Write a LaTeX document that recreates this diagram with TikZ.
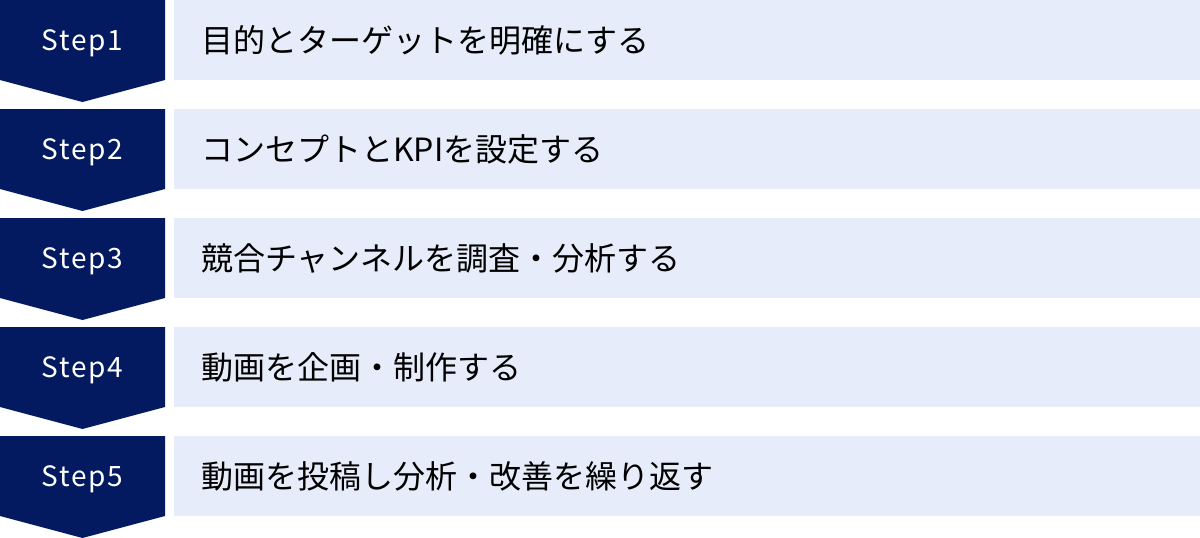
\documentclass[tikz,border=0pt]{standalone}
\usepackage{fontspec}
\setmainfont{Noto Sans CJK JP}
\newfontfamily\stepfont[LetterSpace=6]{Noto Sans CJK JP}
\definecolor{stepnavy}{HTML}{031960}
\definecolor{tasklight}{HTML}{E6ECF9}
\tikzset{
  steplabel/.style={text=white,inner sep=0pt,font=\stepfont\fontsize{28}{32}\selectfont},
  tasklabel/.style={text=black,anchor=west,inner sep=0pt,font=\fontsize{32}{38}\selectfont}
}
\begin{document}
\begin{tikzpicture}[x=1pt,y=-1pt,line join=round]
  \useasboundingbox (0,0) rectangle (1200,538);
  \foreach \i/\txt in {1/目的とターゲットを明確にする,2/コンセプトとKPIを設定する,
      3/競合チャンネルを調査・分析する,4/動画を企画・制作する,5/動画を投稿し分析・改善を繰り返す} {
      \pgfmathsetmacro{\y}{109*(\i-1)}
      \fill [color=stepnavy] (0,\y) -- (165,\y) -- (165,\y+80) -- (82.5,\y+102) -- (0,\y+80) -- cycle;
      \fill [color=tasklight] (174,\y) rectangle (1200,\y+80);
      \node [steplabel] (step\i) at (82.5,\y+43) {Step\i};
      \node [tasklabel] (task\i) at (201,\y+40) {\txt};
    }
\end{tikzpicture}
\end{document}
